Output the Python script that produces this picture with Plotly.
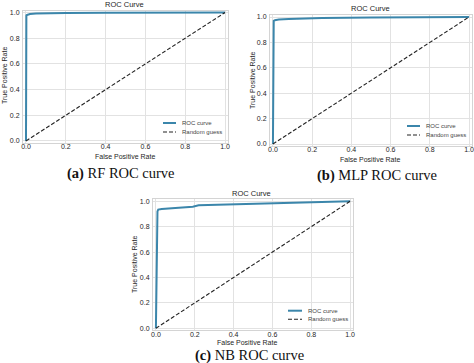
import plotly.graph_objects as go

W, H = 474, 363

# ---- data ----
rf_fpr = [0, 0, 0.002, 0.005, 0.01, 0.02, 0.05, 0.1, 0.2, 0.4, 1.0]
rf_tpr = [0, 0.975, 0.978, 0.981, 0.985, 0.989, 0.993, 0.995, 0.997, 0.999, 1.0]

mlp_fpr = [0, 0.004, 0.01, 0.03, 0.08, 0.15, 0.25, 0.5, 1.0]
mlp_tpr = [0, 0.97, 0.975, 0.98, 0.985, 0.99, 0.993, 0.997, 1.0]

nb_fpr = [0, 0.003, 0.005, 0.008, 0.012, 0.03, 0.1, 0.19, 0.22, 0.4, 0.6, 0.8, 1.0]
nb_tpr = [0, 0.6, 0.88, 0.92, 0.935, 0.94, 0.948, 0.958, 0.968, 0.975, 0.985, 0.994, 1.0]

guess_x = [0, 1]
guess_y = [0, 1]

tick_vals = [0, 0.2, 0.4, 0.6, 0.8, 1.0]
tick_text = ["0.0", "0.2", "0.4", "0.6", "0.8", "1.0"]

panel_title = "ROC Curve"
x_title = "False Positive Rate"
y_title = "True Positive Rate"
legend_labels = ["ROC curve", "Random guess"]
captions = ["<b>(a)</b> RF ROC curve", "<b>(b)</b> MLP ROC curve", "<b>(c)</b> NB ROC curve"]

# ---- style ----
ROC_COLOR = "#3b86ab"
GRID = "#e2e2e2"
FRAME = "#d4d4d4"
TXT = "#262626"
SANS = "Liberation Sans, Arial, sans-serif"
SERIF = "Liberation Serif, Times New Roman, serif"

def px_x(p):
    return p / W

def px_y(p):
    return 1 - p / H

# panel frames in pixels: (left, right, top, bottom)
panels = [
    dict(frame=(23, 228, 10.6, 142.9), fpr=rf_fpr, tpr=rf_tpr,
         title=(124, 4), xlab=(125, 156.5), ylab=(4, 76), cap=(121, 173),
         leg=(163, 176, 123, 132, 180)),
    dict(frame=(270, 472, 15.1, 145.9), fpr=mlp_fpr, tpr=mlp_tpr,
         title=(370, 8), xlab=(370, 159), ylab=(252, 80), cap=(377, 175),
         leg=(407, 420, 126, 135, 424)),
    dict(frame=(153, 353, 199.4, 330.2), fpr=nb_fpr, tpr=nb_tpr,
         title=(252, 193), xlab=(247, 342.5), ylab=(134, 265), cap=(249, 355.5),
         leg=(288, 302, 310.7, 319.3, 306)),
]

fig = go.Figure()
annotations = []
shapes = []
rng = [-0.015, 1.015]

for i, p in enumerate(panels):
    n = "" if i == 0 else str(i + 1)
    xa, ya = "x" + n, "y" + n
    l, r, t, b = p["frame"]
    fig.add_trace(go.Scatter(x=p["fpr"], y=p["tpr"], mode="lines",
                             line=dict(color=ROC_COLOR, width=2),
                             xaxis=xa, yaxis=ya, showlegend=False,
                             name=legend_labels[0]))
    fig.add_trace(go.Scatter(x=guess_x, y=guess_y, mode="lines",
                             line=dict(color="#222222", width=1.1, dash="4px,2px"),
                             xaxis=xa, yaxis=ya, showlegend=False,
                             name=legend_labels[1]))
    axcommon = dict(range=rng, tickvals=tick_vals, ticktext=tick_text, automargin=False,
                    showgrid=True, gridcolor=GRID, gridwidth=1, ticklabeloverflow="allow",
                    zeroline=False, showline=True, linecolor=FRAME, linewidth=1,
                    mirror=True, ticks="", tickfont=dict(family=SANS, size=7, color=TXT))
    fig.layout["xaxis" + n] = dict(domain=[px_x(l), px_x(r)], anchor=ya,
                                   ticklabelstandoff=-3, **axcommon)
    fig.layout["yaxis" + n] = dict(domain=[px_y(b), px_y(t)], anchor=xa,
                                   ticklabelstandoff=1, **axcommon)

    tx, ty = p["title"]
    annotations.append(dict(text=panel_title, x=px_x(tx), y=px_y(ty), xref="paper", yref="paper",
                            showarrow=False, xanchor="center", yanchor="middle",
                            font=dict(family=SANS, size=7.5, color=TXT)))
    lx, ly = p["xlab"]
    annotations.append(dict(text=x_title, x=px_x(lx), y=px_y(ly), xref="paper", yref="paper",
                            showarrow=False, xanchor="center", yanchor="middle",
                            font=dict(family=SANS, size=7, color=TXT)))
    yx, yy = p["ylab"]
    annotations.append(dict(text=y_title, x=px_x(yx), y=px_y(yy), xref="paper", yref="paper",
                            showarrow=False, xanchor="center", yanchor="middle", textangle=-90,
                            font=dict(family=SANS, size=7, color=TXT)))
    cx, cy = p["cap"]
    annotations.append(dict(text=captions[i], x=px_x(cx), y=px_y(cy), xref="paper", yref="paper",
                            showarrow=False, xanchor="center", yanchor="middle",
                            font=dict(family=SERIF, size=14.5, color="#111111")))
    # legend
    x0, x1, y1, y2, txs = p["leg"]
    shapes.append(dict(type="line", xref="paper", yref="paper",
                       x0=px_x(x0), x1=px_x(x1), y0=px_y(y1), y1=px_y(y1),
                       line=dict(color=ROC_COLOR, width=2)))
    shapes.append(dict(type="line", xref="paper", yref="paper",
                       x0=px_x(x0), x1=px_x(x1), y0=px_y(y2), y1=px_y(y2),
                       line=dict(color="#222222", width=1.1, dash="4px,2px")))
    for lab, yy_ in zip(legend_labels, (y1, y2)):
        annotations.append(dict(text=lab, x=px_x(txs), y=px_y(yy_), xref="paper", yref="paper",
                                showarrow=False, xanchor="left", yanchor="middle",
                                font=dict(family=SANS, size=6, color="#444444")))

fig.update_layout(width=W, height=H, margin=dict(l=0, r=0, t=0, b=0, autoexpand=False),
                  paper_bgcolor="white", plot_bgcolor="white",
                  annotations=annotations, shapes=shapes, showlegend=False)

fig.write_html("out.html", config={"displayModeBar": False},
               post_script="document.body.style.margin='0';document.body.style.overflow='hidden';")
